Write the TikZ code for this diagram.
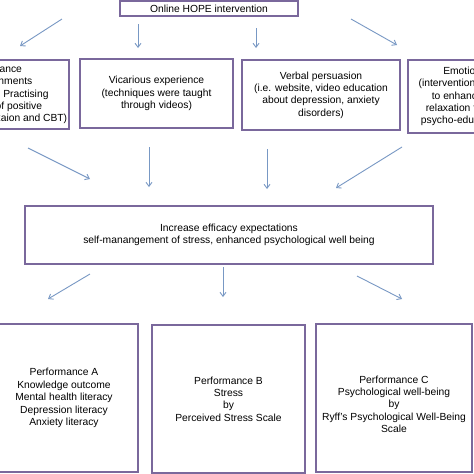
\documentclass[tikz,border=0pt]{standalone}
\usepackage{fontspec}
\setmainfont{Liberation Sans}
\usetikzlibrary{arrows.meta}
\definecolor{boxc}{RGB}{122,104,156}
\definecolor{arrc}{RGB}{120,152,196}
\tikzset{
  box/.style={draw=boxc, line width=1.4pt, align=center, inner sep=0pt,
    font=\fontsize{10.3}{12.4}\selectfont},
  txt/.style={align=center, inner sep=0pt, font=\fontsize{10.3}{12.4}\selectfont},
  arr/.style={draw=arrc, line width=0.9pt, -{Straight Barb[length=4pt,width=6pt]}}
}
\begin{document}
\begin{tikzpicture}[x=1pt,y=-1pt]
\path[use as bounding box, clip] (0,0) rectangle (474,474);
\fill[white] (0,0) rectangle (474,474);
% top
\node[box, minimum width=178pt, minimum height=15pt] (top) at (209,8.5) {Online HOPE intervention};
% row 2
\node[box, minimum width=153pt, minimum height=69pt] (perf) at (-7.5,94.5)
  {Performance\\accomplishments\\(Weekly tasks Practising\\techniques of positive\\mindfulness, relaxaion and CBT)};
\node[box, minimum width=153pt, minimum height=69pt] (vic) at (156.5,93.5)
  {Vicarious experience\\(techniques were taught\\through videos)};
\node[box, minimum width=158pt, minimum height=70pt] (verb) at (321,95)
  {Verbal persuasion\\(i.e. website, video education\\about depression, anxiety\\disorders)};
\node[box, minimum width=153pt, minimum height=73pt] (emo) at (484.5,96.5)
  {Emotional arousal\\(interventions were designed\\to enhance coping with\\relaxation techniques and\\psycho-education sessions)};
% middle
\node[box, minimum width=408pt, minimum height=58pt] (mid) at (229,235)
  {Increase efficacy expectations\\self-manangement of stress, enhanced psychological well being};
% bottom
\node[box, minimum width=148pt, minimum height=148pt] (pa) at (64,398)
  {Performance A\\Knowledge outcome\\Mental health literacy\\Depression literacy\\Anxiety literacy};
\node[box, minimum width=153pt, minimum height=148pt] (pb) at (228.5,399)
  {Performance B\\Stress\\by\\Perceived Stress Scale};
\node[box, minimum width=156pt, minimum height=148pt] (pc) at (394,398) {};
\node[txt] (pctext) at ([yshift=-6.3pt]pc.center)
  {Performance C\\Psychological well-being\\by\\Ryff’s Psychological Well-Being\\Scale};
% arrow end points
\coordinate (a1s) at (62,19);   \coordinate (a1e) at (20,46);
\coordinate (a2s) at (138,24);  \coordinate (a2e) at (138,48);
\coordinate (a3s) at (256,28);  \coordinate (a3e) at (256,48);
\coordinate (a4s) at (351,19);  \coordinate (a4e) at (397,45);
\coordinate (b1s) at (28,148);  \coordinate (b1e) at (90,179);
\coordinate (b2s) at (149,147); \coordinate (b2e) at (149,187);
\coordinate (b3s) at (267,149); \coordinate (b3e) at (267,189);
\coordinate (b4s) at (402,147); \coordinate (b4e) at (336,188);
\coordinate (c1s) at (90,274);  \coordinate (c1e) at (48,299);
\coordinate (c2s) at (223,267); \coordinate (c2e) at (223,297);
\coordinate (c3s) at (357,276); \coordinate (c3e) at (402,299);
\foreach \n in {a1,a2,a3,a4,b1,b2,b3,b4,c1,c2,c3}
  \draw[arr] (\n s) -- (\n e);
\end{tikzpicture}
\end{document}
